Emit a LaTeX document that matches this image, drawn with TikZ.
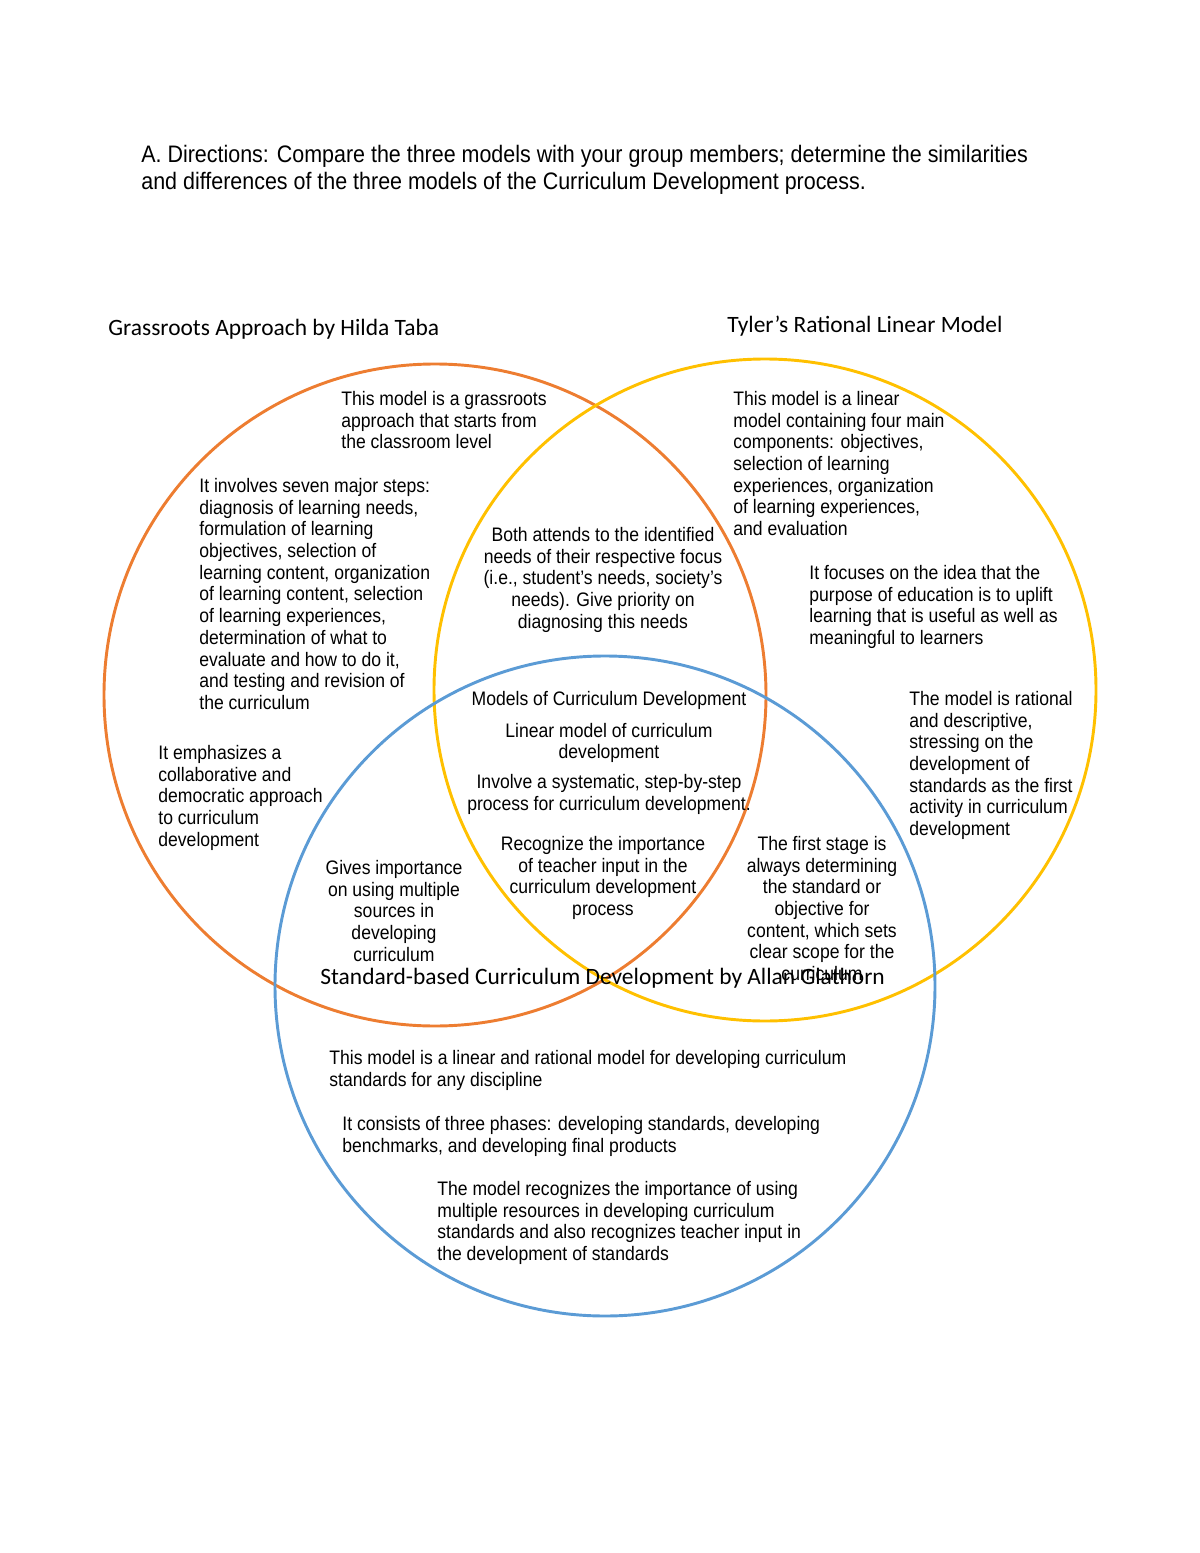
\documentclass[tikz,border=0pt]{standalone}
\usepackage{fontspec}
\setmainfont[FakeStretch=0.9]{Liberation Sans}
\newfontfamily\calibrifont{Carlito}
\usetikzlibrary{positioning}
\definecolor{tabaorange}{HTML}{ED7D31}
\definecolor{tyleryellow}{HTML}{FFC000}
\definecolor{glatblue}{HTML}{5B9BD5}

\begin{document}
\begin{tikzpicture}[
    x=0.01799cm, y=-0.01799cm,
    node distance=6pt,
    ring/.style={line width=1.5pt},
    note/.style={font=\fontsize{10}{11.1}\selectfont, align=left, inner sep=0pt, anchor=north west},
    cnote/.style={font=\fontsize{10}{11.1}\selectfont, align=center, inner sep=0pt, anchor=north},
    heading/.style={font=\calibrifont\fontsize{12}{14}\selectfont, inner sep=0pt, anchor=base west},
]
\useasboundingbox (0,0) rectangle (1200,1553);

% Directions
\node[note, font=\fontsize{12.2}{13.8}\selectfont] (directions) at (141,145)
  {A. Directions: Compare the three models with your group members; determine the similarities\\
   and differences of the three models of the Curriculum Development process.};

% The three rings
\coordinate (taba) at (435,695);
\coordinate (tyler) at (765,690);
\coordinate (glat) at (605,986);
\draw[ring, tabaorange] (taba) circle[radius=331];
\draw[ring, tyleryellow] (tyler) circle[radius=331];
\draw[ring, glatblue] (glat) circle[radius=330];

% Ring titles
\node[heading] (tabatitle) at (108,336) {Grassroots Approach by Hilda Taba};
\node[heading] (tylertitle) at (727,333) {Tyler’s Rational Linear Model};

% Taba only
\node[note] (tabaone) at (341,391) {This model is a grassroots\\approach that starts from\\the classroom level};
\node[note] (tabatwo) at (199,478) {It involves seven major steps:\\diagnosis of learning needs,\\formulation of learning\\objectives, selection of\\learning content, organization\\of learning content, selection\\of learning experiences,\\determination of what to\\evaluate and how to do it,\\and testing and revision of\\the curriculum};
\node[note] (tabathree) at (158,745) {It emphasizes a\\collaborative and\\democratic approach\\to curriculum\\development};

% Tyler only
\node[note] (tylerone) at (733,391) {This model is a linear\\model containing four main\\components: objectives,\\selection of learning\\experiences, organization\\of learning experiences,\\and evaluation};
\node[note] (tylertwo) at (809,565) {It focuses on the idea that the\\purpose of education is to uplift\\learning that is useful as well as\\meaningful to learners};
\node[note] (tylerthree) at (909,691) {The model is rational\\and descriptive,\\stressing on the\\development of\\standards as the first\\activity in curriculum\\development};

% Overlaps
\node[cnote] (tabatyler) at (603,527) {Both attends to the identified\\needs of their respective focus\\(i.e., student's needs, society's\\needs). Give priority on\\diagnosing this needs};
\node[cnote] (tabaglat) at (394,860) {Gives importance\\on using multiple\\sources in\\developing\\curriculum};
\node[cnote] (tylerglat) at (822,836) {The first stage is\\always determining\\the standard or\\objective for\\content, which sets\\clear scope for the\\curriculum};

% Centre
\node[cnote] (models) at (609,691) {Models of Curriculum Development};
\node[cnote, below=6.4pt of models] (linear) {Linear model of curriculum\\development};
\node[cnote, below=5.6pt of linear] (involve) {Involve a systematic, step-by-step\\process for curriculum development.};
\node[cnote] (teacher) at (603,836) {Recognize the importance\\of teacher input in the\\curriculum development\\process};

% Glatthorn title and notes
\node[heading] (glattitle) at (320,984) {Standard-based Curriculum Development by Allan Glathorn};
\node[note] (glatone) at (329,1050) {This model is a linear and rational model for developing curriculum\\standards for any discipline};
\node[note] (glattwo) at (342,1116) {It consists of three phases: developing standards, developing\\benchmarks, and developing final products};
\node[note] (glatthree) at (437,1181) {The model recognizes the importance of using\\multiple resources in developing curriculum\\standards and also recognizes teacher input in\\the development of standards};

\end{tikzpicture}
\end{document}
